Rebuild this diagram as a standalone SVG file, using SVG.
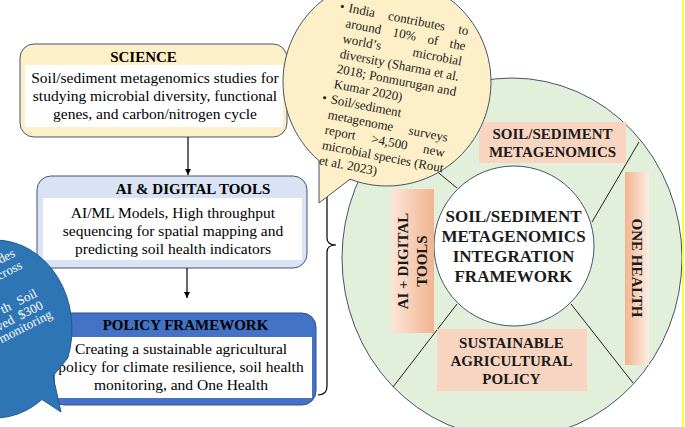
<svg xmlns="http://www.w3.org/2000/svg" width="685" height="427" viewBox="0 0 685 427">
<defs>
<style>
text{font-family:"Liberation Serif","Times New Roman",serif;}
.body{font-size:15.5px;fill:#000;text-anchor:middle}
.title{font-size:15px;font-weight:bold;fill:#000;text-anchor:middle}
.lbl{font-size:15px;font-weight:bold;fill:#1a1a1a;text-anchor:middle}
.ctr{font-size:17px;font-weight:bold;fill:#1a1a1a;text-anchor:middle}
.yb{font-size:13px;fill:#1a1a1a}
.bb{font-size:13px;fill:#ffffff;text-anchor:end}
.conn{stroke:#000;stroke-width:1.2;fill:none}
.div{stroke:#222;stroke-width:1}
.peach{fill:#f8d5c1}
</style>
<linearGradient id="gOne" x1="0" y1="0" x2="1" y2="0">
<stop offset="0" stop-color="#f2b48f"/>
<stop offset="1" stop-color="#fcece2"/>
</linearGradient>
<linearGradient id="gAI" x1="0" y1="0" x2="1" y2="0">
<stop offset="0" stop-color="#fbe6da"/>
<stop offset="1" stop-color="#f2b48f"/>
</linearGradient>
<marker id="arr" viewBox="0 0 10 10" refX="10" refY="5" markerWidth="6" markerHeight="6" markerUnits="userSpaceOnUse" orient="auto">
<path d="M0,0 L10,5 L0,10 Z" fill="#000"/>
</marker>
</defs>
<rect width="685" height="427" fill="#fff"/>

<g id="node-framework">
<ellipse cx="512" cy="258" rx="170" ry="180" fill="#e2efda" stroke="#44546a" stroke-width="1"/>
<line class="div" x1="389" y1="132" x2="457" y2="188"/>
<line class="div" x1="592" y1="222" x2="639" y2="142"/>
<line class="div" x1="571" y1="304" x2="633" y2="383"/>
<line class="div" x1="457" y1="304" x2="393" y2="387"/>
<circle cx="514" cy="246" r="80" fill="#fff" stroke="#44546a" stroke-width="1"/>
<text class="ctr" x="513.5" y="222">SOIL/SEDIMENT</text>
<text class="ctr" x="513.5" y="242">METAGENOMICS</text>
<text class="ctr" x="513.5" y="262">INTEGRATION</text>
<text class="ctr" x="513.5" y="282">FRAMEWORK</text>
</g>
<g id="node-soil-label">
<rect class="peach" x="479" y="122" width="147" height="41"/>
<text class="lbl" x="552.5" y="139">SOIL/SEDIMENT</text>
<text class="lbl" x="552.5" y="157">METAGENOMICS</text>
</g>
<g id="node-onehealth-label">
<rect x="625" y="172" width="24" height="193" fill="url(#gOne)"/>
<text class="lbl" transform="translate(637,268) rotate(90)" x="0" y="5">ONE HEALTH</text>
</g>
<g id="node-ai-label">
<rect x="391" y="189" width="43" height="144" fill="url(#gAI)"/>
<text class="lbl" transform="translate(412,261) rotate(-90)"><tspan x="0" y="-4">AI + DIGITAL</tspan><tspan x="0" y="15">TOOLS</tspan></text>
</g>
<g id="node-policy-label">
<rect class="peach" x="437" y="329" width="150" height="62"/>
<text class="lbl" x="511.5" y="348">SUSTAINABLE</text>
<text class="lbl" x="511.5" y="366">AGRICULTURAL</text>
<text class="lbl" x="511.5" y="384">POLICY</text>
</g>

<g id="node-science">
<rect x="20" y="44" width="267" height="93" rx="14" fill="#fdf0c8" stroke="#44546a" stroke-width="1"/>
<rect x="25" y="65" width="258" height="62" fill="#fff"/>
<text class="title" x="143.5" y="62">SCIENCE</text>
<text class="body" x="155" y="83">Soil/sediment metagenomics studies for</text>
<text class="body" x="155" y="101">studying microbial diversity, functional</text>
<text class="body" x="155" y="119">genes, and carbon/nitrogen cycle</text>
</g>
<g id="node-ai">
<rect x="37" y="176" width="270" height="92" rx="14" fill="#dae3f3" stroke="#44546a" stroke-width="1"/>
<rect x="43" y="198" width="259" height="62" fill="#fff"/>
<text class="title" x="193" y="194">AI &amp; DIGITAL TOOLS</text>
<text class="body" x="173" y="218">AI/ML Models, High throughput</text>
<text class="body" x="173" y="236">sequencing for spatial mapping and</text>
<text class="body" x="173" y="254">predicting soil health indicators</text>
</g>
<g id="node-policy">
<rect x="50" y="313" width="266" height="92" rx="14" fill="#4472c4" stroke="#2f528f" stroke-width="1"/>
<rect x="55" y="337" width="257" height="61" fill="#fff"/>
<text class="title" x="185.5" y="330">POLICY FRAMEWORK</text>
<text class="body" x="181" y="354">Creating a sustainable agricultural</text>
<text class="body" x="181" y="372">policy for climate resilience, soil health</text>
<text class="body" x="181" y="390">monitoring, and One Health</text>
</g>

<g id="connectors">
<line class="conn" x1="188" y1="137" x2="188" y2="175" marker-end="url(#arr)"/>
<line class="conn" x1="187" y1="268" x2="187" y2="298" marker-end="url(#arr)"/>
<path class="conn" d="M318,160 Q327,160 327,170 L327,238 Q327,245 336,245 Q327,245 327,252 L327,386 Q327,395 318,395"/>
</g>

<g id="node-bubble-india">
<path d="M350,179.2 A104,104 0 1 0 319,160.7 L319,203 Z" fill="#fdf0c8" stroke="#44546a" stroke-width="1"/>
<g transform="translate(348,12) rotate(11)">
<text class="yb" x="-9" y="0">•</text>
<text class="yb" x="0" y="0" style="word-spacing:10.4px">India contributes to</text>
<text class="yb" x="0" y="15.5" style="word-spacing:8.5px">around 10% of the</text>
<text class="yb" x="0" y="31" style="word-spacing:29px">world’s microbial</text>
<text class="yb" x="0" y="46.5">diversity (Sharma et al.</text>
<text class="yb" x="0" y="62">2018; Ponmurugan and</text>
<text class="yb" x="0" y="77.5">Kumar 2020)</text>
<text class="yb" x="-9" y="93">•</text>
<text class="yb" x="0" y="93">Soil/sediment</text>
<text class="yb" x="0" y="108.5" style="word-spacing:12.6px">metagenome surveys</text>
<text class="yb" x="0" y="124" style="word-spacing:13px">report &gt;4,500 new</text>
<text class="yb" x="0" y="139.5">microbial species (Rout</text>
<text class="yb" x="0" y="155">et al. 2023)</text>
</g>
</g>

<g id="node-bubble-blue">
<path d="M42,399.5 A77,89 0 1 1 67.8,358 L53,376 L61,412 Z" fill="#2e75b6" stroke="#1f5a93" stroke-width="1"/>
<text class="bb" transform="translate(16,256) rotate(-27)">des</text>
<text class="bb" transform="translate(23,268) rotate(-27)">cross</text>
<text class="bb" transform="translate(38,296) rotate(-27)" style="word-spacing:5px">th Soil</text>
<text class="bb" transform="translate(44,308) rotate(-27)" style="word-spacing:3px">ved $300</text>
<text class="bb" transform="translate(53,317) rotate(-27)">monitoring</text>
</g>

<line x1="683" y1="0" x2="683" y2="427" stroke="#ffff33" stroke-width="2"/>
</svg>
